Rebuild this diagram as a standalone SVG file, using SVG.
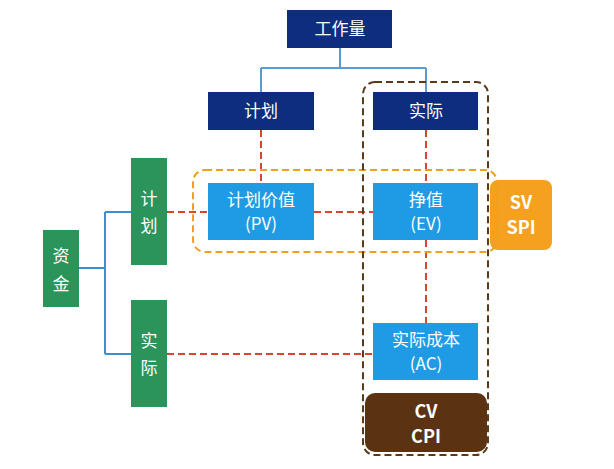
<svg xmlns="http://www.w3.org/2000/svg" width="614" height="469" viewBox="0 0 614 469">
<style>
.db{fill:#0e2d7e}
.lb{fill:#1f9be6}
.gr{fill:#2b945a}
.t{font-family:"Noto Sans CJK SC","Liberation Sans",sans-serif;fill:#fff;font-size:17px;text-anchor:middle}
.b{font-weight:bold;font-size:18px}
.bl{fill:none;stroke:#5a9bd6;stroke-width:2}
.gl{fill:none;stroke:#3a8fd0;stroke-width:2}
.rd{fill:none;stroke:#d9452a;stroke-width:2;stroke-dasharray:7 4}
</style>
<rect width="614" height="469" fill="#fff"/>
<g id="connectors">
<path class="bl" d="M340 48V68M261 68H426M261 68V92M426 68V92"/>
<path class="gl" d="M79 268H105M105 212V354M105 212H131M105 354H131"/>
<path class="rd" d="M167 212H208M314 212H373M261 130V183M426 130V183M426 240V323M167 354H373"/>
</g>
<g id="n-workload"><rect class="db" x="287" y="10" width="105" height="38"/><text class="t" x="340" y="35">工作量</text></g>
<g id="n-plan-top"><rect class="db" x="208" y="92" width="106" height="38"/><text class="t" x="261" y="117">计划</text></g>
<g id="n-actual-top"><rect class="db" x="373" y="92" width="105" height="38"/><text class="t" x="426" y="117">实际</text></g>
<g id="n-pv"><rect class="lb" x="208" y="183" width="106" height="57"/><text class="t" x="261" y="206">计划价值</text><text class="t" x="261" y="230">(PV)</text></g>
<g id="n-ev"><rect class="lb" x="373" y="183" width="105" height="57"/><text class="t" x="426" y="206">挣值</text><text class="t" x="426" y="230">(EV)</text></g>
<g id="n-ac"><rect class="lb" x="373" y="323" width="105" height="57"/><text class="t" x="426" y="346">实际成本</text><text class="t" x="426" y="370">(AC)</text></g>
<g id="n-fund"><rect class="gr" x="43" y="230" width="36" height="77"/><text class="t" x="61" y="262">资</text><text class="t" x="61" y="290">金</text></g>
<g id="n-plan-left"><rect class="gr" x="131" y="158" width="36" height="107"/><text class="t" x="149" y="205">计</text><text class="t" x="149" y="232">划</text></g>
<g id="n-actual-left"><rect class="gr" x="131" y="300" width="36" height="107"/><text class="t" x="149" y="347">实</text><text class="t" x="149" y="374">际</text></g>
<g id="n-svspi"><rect x="490" y="180" width="62" height="70" rx="8" fill="#f5a01e"/><text class="t b" x="521" y="209">SV</text><text class="t b" x="521" y="234">SPI</text></g>
<g id="n-cvcpi"><rect x="365" y="393" width="122" height="59" rx="10" fill="#5b3312"/><text class="t b" x="426" y="418">CV</text><text class="t b" x="426" y="443">CPI</text></g>
<rect x="193" y="170" width="304" height="82" rx="12" fill="none" stroke="#f0a020" stroke-width="2" stroke-dasharray="7 4"/>
<rect x="363" y="82" width="125" height="373" rx="12" fill="none" stroke="#5b3a1a" stroke-width="2" stroke-dasharray="7 4"/>
</svg>
